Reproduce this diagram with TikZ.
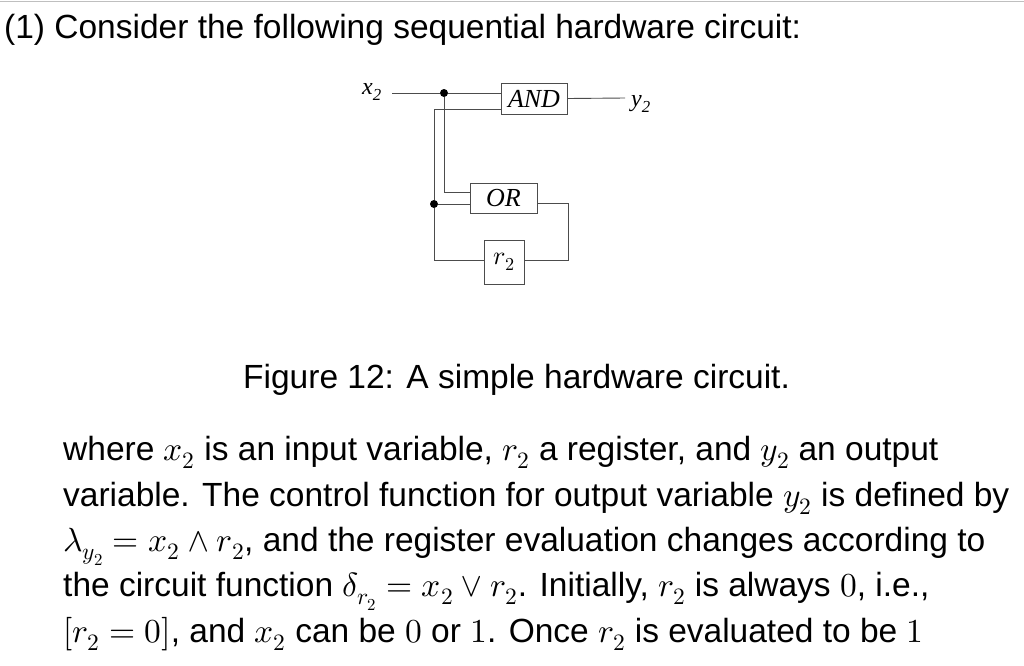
\documentclass[tikz,border=0pt]{standalone}
\usepackage{amsmath}
\usepackage{unicode-math}
\setmainfont{Liberation Sans}
\setmathfont{Latin Modern Math}
\newfontfamily\circfont{Liberation Serif}
\begin{document}
\begin{tikzpicture}[x=1pt,y=-1pt,
  txt/.style={anchor=base west,inner sep=0pt,font=\fontsize{33.5}{38}\selectfont},
  gate/.style={draw=black!70,line width=0.9pt,inner sep=0pt,font=\circfont\itshape\fontsize{26}{28}\selectfont},
  wire/.style={draw=black!70,line width=0.9pt},
  dot/.style={circle,fill=black,inner sep=0pt,minimum size=8pt},
  lbl/.style={inner sep=0pt,font=\circfont\fontsize{24}{26}\selectfont}]
\useasboundingbox (0,0) rectangle (1024,665);
\draw[black!25] (0,1) -- (1024,1);
\node[txt] (title) at (4,38) {(1) Consider the following sequential hardware circuit:};
% circuit
\node[gate,minimum width=66pt,minimum height=31pt] (and) at (534,98.5) {AND};
\node[gate,minimum width=67pt,minimum height=30pt] (or) at (503.5,198) {OR};
\node[gate,minimum width=40pt,minimum height=44pt] (reg) at (504,262) {$r_2$};
\node[lbl] (x2) at (372,92) {\itshape x\textsubscript{2}};
\node[lbl] (y2) at (641,104) {\itshape y\textsubscript{2}};
\coordinate (xin) at (392,93);
\coordinate (yout) at (625,98);
\node[dot] (d1) at (444,93) {};
\node[dot] (d2) at (434,204) {};
\draw[wire] (xin) -- (d1) -- (and.west |- d1);
\draw[wire] (and.east) -- (yout);
\draw[wire] (and.west |- 0,109) -| (d2);
\draw[wire] (d1) |- (or.west |- 0,192);
\draw[wire] (d2) -- (or.west |- d2);
\draw[wire] (or.east |- 0,203) -| (568,260) -- (reg.east |- 0,260);
\draw[wire] (reg.west |- 0,260) -| (d2);
\node[txt] (cap) at (243,388) {Figure 12: A simple hardware circuit.};
\node[txt] (l1) at (63,460) {where $x_2$ is an input variable, $r_2$ a register, and $y_2$ an output};
\node[txt] (l2) at (63,506) {variable. The control function for output variable $y_2$ is defined by};
\node[txt] (l3) at (63,551) {$\lambda_{y_2}=x_2\wedge r_2$, and the register evaluation changes according to};
\node[txt] (l4) at (63,596) {the circuit function $\delta_{r_2}=x_2\vee r_2$. Initially, $r_2$ is always $0$, i.e.,};
\node[txt] (l5) at (63,642) {$[r_2=0]$, and $x_2$ can be $0$ or $1$. Once $r_2$ is evaluated to be $1$};
\end{tikzpicture}
\end{document}
